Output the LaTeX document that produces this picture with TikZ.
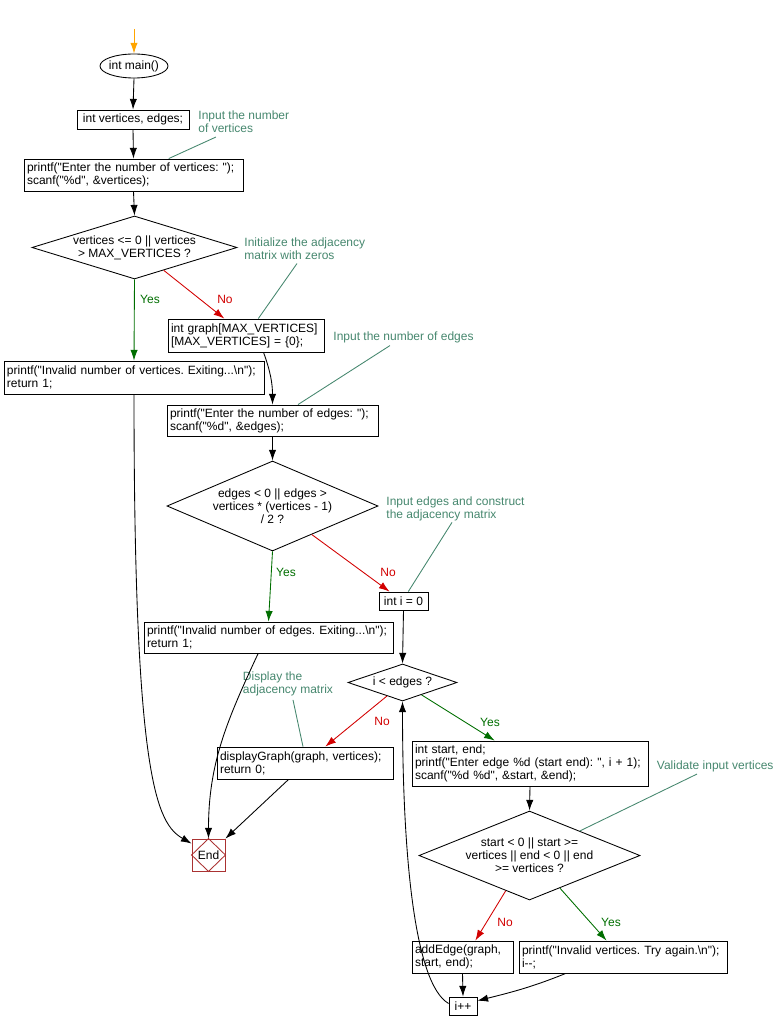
\documentclass[tikz,border=0pt]{standalone}
\usepackage{fontspec}
\usetikzlibrary{arrows.meta}
\usetikzlibrary{shapes.geometric}
\newfontfamily\flowfont{Liberation Sans}
\frenchspacing
\definecolor{notegreen}{RGB}{70,135,110}
\definecolor{yesgreen}{RGB}{0,110,0}
\definecolor{nored}{RGB}{210,0,0}
\definecolor{endred}{RGB}{170,50,50}
\definecolor{startorange}{RGB}{255,165,0}
\tikzset{every node/.style={font=\flowfont\fontsize{9}{9.75}\selectfont}}
\tikzset{proc/.style={draw, rectangle, align=left, inner xsep=2.25pt, inner ysep=1pt}}
\tikzset{decision/.style={draw, diamond, align=center, inner sep=0pt}}
\tikzset{note/.style={text=notegreen, align=left, anchor=north west, inner sep=0pt,
      font=\flowfont\fontsize{9}{10}\selectfont}}
\tikzset{notelink/.style={draw=notegreen}}
\tikzset{yesflow/.style={->, draw=yesgreen}}
\tikzset{noflow/.style={->, draw=nored}}
\tikzset{yeslabel/.style={text=yesgreen, inner sep=0pt}}
\tikzset{nolabel/.style={text=nored, inner sep=0pt}}

\begin{document}
\begin{tikzpicture}[x=0.75pt,y=0.75pt,line width=0.65pt,>={Latex[length=8pt,width=5.5pt]}]
		\useasboundingbox (0,0) rectangle (782,-1030);
		\coordinate (startpt) at (134,-29);
		\node[draw, ellipse, inner xsep=-1.5pt, inner ysep=0pt, minimum width=51pt, minimum height=18pt] (main) at (134,-66) {int main()};
		\node[proc, align=center, minimum width=84pt, minimum height=14.25pt] (vars) at (133,-119.5) {int vertices, edges;};
		\node[proc, text width=159.75pt, minimum height=24pt] (vtxin) at (133.5,-175) {printf("Enter the number of vertices: ");\\scanf("\%d", \&vertices);};
		\node[decision, aspect=3.25, minimum width=153.75pt, minimum height=47.25pt] (chk1) at (134.5,-247.5) {vertices <= 0 || vertices\\> MAX\_VERTICES ?};
		\node[proc, text width=190.5pt, minimum height=24.75pt] (invv) at (134,-377.5) {printf("Invalid number of vertices. Exiting...\textbackslash n");\\return 1;};
		\node[proc, text width=112.5pt, minimum height=24.75pt] (graph) at (246,-335.5) {int graph[MAX\_VERTICES]\\{}[MAX\_VERTICES] = \{0\};};
		\node[proc, text width=153.75pt, minimum height=23.25pt] (edgin) at (272.5,-420.5) {printf("Enter the number of edges: ");\\scanf("\%d", \&edges);};
		\node[decision, aspect=2.34, minimum width=158.25pt, minimum height=67.5pt] (chk2) at (272.5,-506) {edges < 0 || edges >\\vertices * (vertices - 1)\\/ 2 ?};
		\node[proc, text width=182.25pt, minimum height=23.25pt] (inve) at (268.5,-637.5) {printf("Invalid number of edges. Exiting...\textbackslash n");\\return 1;};
		\node[proc, align=center, minimum width=36.75pt, minimum height=13.5pt] (init) at (403.5,-601) {int i = 0};
		\node[decision, aspect=2.95, minimum width=81.75pt, minimum height=27.75pt] (loop) at (402.5,-682.5) {i < edges ?};
		\node[proc, text width=127.5pt, minimum height=24pt] (disp) at (305,-763) {displayGraph(graph, vertices);\\return 0;};
		\node[proc, text width=172.5pt, minimum height=33.75pt] (read) at (530,-763.5) {int start, end;\\printf("Enter edge \%d (start end): ", i + 1);\\scanf("\%d \%d", \&start, \&end);};
		\node[decision, aspect=2.48, minimum width=165.75pt, minimum height=66.75pt] (chk4) at (529.5,-855.5) {start < 0 || start >=\\vertices || end < 0 || end\\>= vertices ?};
		\node[proc, text width=71.25pt, minimum height=24pt] (add) at (462.5,-957) {addEdge(graph,\\start, end);};
		\node[proc, text width=151.5pt, minimum height=24pt] (invt) at (623,-957) {printf("Invalid vertices. Try again.\textbackslash n");\\i-\kern0pt-;};
		\node[proc, align=center, minimum width=21pt, minimum height=13.5pt] (inc) at (463,-1006) {i++};
		\node[draw=endred, inner sep=0pt, minimum width=24.75pt, minimum height=24pt] (theend) at (208.5,-855) {End};
		\draw[endred] (theend.north) -- (theend.east) -- (theend.south) -- (theend.west) -- cycle;

		\node[note] (cvtx) at (198,-110) {Input the number\\of vertices};
		\node[note] (cgraph) at (244,-237.5) {Initialize the adjacency\\matrix with zeros};
		\node[note] (cedg) at (333,-331.5) {Input the number of edges};
		\node[note] (cadj) at (386,-496) {Input edges and construct\\the adjacency matrix};
		\node[note] (cdisp) at (242.5,-671.5) {Display the\\adjacency matrix};
		\node[note] (cval) at (656.5,-760) {Validate input vertices};

		\node[yeslabel] (yes1) at (150,-299) {Yes};
		\node[nolabel] (no1) at (225,-299) {No};
		\node[yeslabel] (yes2) at (286,-572) {Yes};
		\node[nolabel] (no2) at (388,-572) {No};
		\node[nolabel] (no3) at (382,-721) {No};
		\node[yeslabel] (yes3) at (490,-722) {Yes};
		\node[nolabel] (no4) at (505,-922) {No};
		\node[yeslabel] (yes4) at (611,-922) {Yes};

		\draw[->, draw=startorange] (startpt) -- (main.north);
		\draw[->] (main.south) -- (vars.north);
		\draw[->] (vars.south) -- (vtxin.north);
		\draw[->] (vtxin.south) -- (chk1.north);
		\draw[yesflow] (chk1.south) -- (invv.north);
		\draw[noflow] (chk1.-38) -- (graph.142);
		\draw[->] (graph.-44) to[out=-70,in=90] (edgin.north);
		\draw[->] (edgin.south) -- (chk2.north);
		\draw[yesflow] (chk2.south) -- (inve.north);
		\draw[noflow] (chk2.-36) -- (init.146);
		\draw[->] (init.south) -- (loop.north);
		\draw[noflow] (loop.-139) -- (disp.39);
		\draw[yesflow] (loop.-33) -- (read.147);
		\draw[->] (read.south) -- (chk4.north);
		\draw[noflow] (chk4.-124) -- (add.52);
		\draw[yesflow] (chk4.-47) -- (invt.135);
		\draw[->] (add.south) -- (inc.north);
		\draw[->] (invt.-164) to[out=-158,in=14] (inc.20);
		\draw[->] (inc.170) .. controls +(150:40) and +(-90:150) .. (loop.south);
		\draw[->] (invv.south) .. controls +(-90:386) and +(150:40) .. (theend.146);
		\draw[->] (inve.-123) to[out=-115,in=90] (theend.north);
		\draw[->] (disp.-135) -- (theend.north east);

		\draw[notelink] (cvtx.south west) ++(18,-4) -- (vtxin.25);
		\draw[notelink] (cgraph.south west) ++(53,-3) -- (graph.54);
		\draw[notelink] (cedg.south west) ++(57,-2) -- (edgin.32);
		\draw[notelink] (cadj.south west) ++(66,-1) -- (init.63);
		\draw[notelink] (cdisp.south west) ++(50.5,-3) -- (disp.97);
		\draw[notelink] (cval.south west) ++(40.5,-2) -- (chk4.26);
		\end{tikzpicture}
\end{document}
